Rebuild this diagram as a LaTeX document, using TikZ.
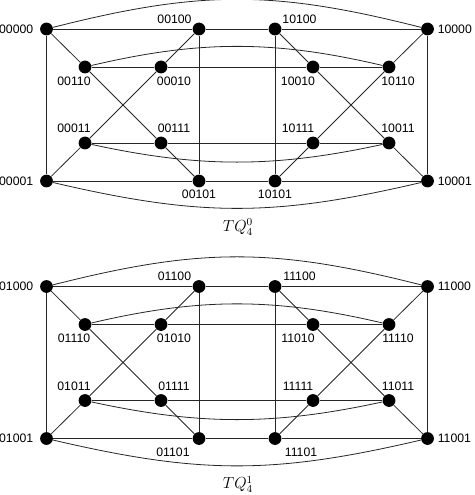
\documentclass[tikz,border=0pt]{standalone}
\usepackage{fontspec}
\setsansfont{Liberation Sans}
\usetikzlibrary{calc}
\begin{document}
\begin{tikzpicture}[x=0.75pt,y=-0.75pt,
    dot/.style={circle,fill=black,inner sep=0pt,minimum size=9.6pt},
    edge/.style={line width=0.6pt,black!85},
    lbl/.style={font=\sffamily\fontsize{9.2}{11}\selectfont,inner sep=0pt},
    captxt/.style={font=\fontsize{12}{14}\selectfont,inner sep=0pt}]
  \useasboundingbox (0,0) rectangle (474,495);
  \foreach \g/\yy/\dd in {0/0/0,1/257.5/26}{
    % nodes: left half 0g..., right half 1g... (mirrored)
    \foreach \s/\x/\y in {000/46.5/29,100/199/29,110/85/67,010/161/67,
                          011/85/143,111/161/143,001/46.5/181,101/199/181}{
      \node[dot] (n0\g\s) at (\x,\y+\yy) {};
      \node[dot] (n1\g\s) at (474-\x,\y+\yy) {};
    }
    % edges inside each half
    \foreach \h in {0,1}
      \foreach \p/\q in {000/100,000/001,100/101,001/101,110/010,011/111,
                         000/110,110/111,111/101,001/011,011/010,010/100}
        \draw[edge] (n\h\g\p) -- (n\h\g\q);
    % edges between the halves
    \foreach \s in {100,010,111,101}
      \draw[edge] (n0\g\s) -- (n1\g\s);
    \draw[edge] (n0\g000) .. controls +(154,-39) and +(-154,-39) .. (n1\g000);
    \draw[edge] (n0\g110) .. controls +(115,-27) and +(-115,-27) .. (n1\g110);
    \draw[edge] (n0\g011) .. controls +(115,25) and +(-115,25) .. (n1\g011);
    \draw[edge] (n0\g001) .. controls +(154,36) and +(-154,36) .. (n1\g001);
    % labels
    \node[lbl,anchor=east] at ($(n0\g000)+(-13,0)$) {0\g000};
    \node[lbl,anchor=west] at ($(n1\g000)+(10,0)$) {1\g000};
    \node[lbl,anchor=east] at ($(n0\g001)+(-13,0)$) {0\g001};
    \node[lbl,anchor=west] at ($(n1\g001)+(10,0)$) {1\g001};
    \foreach \s/\dl/\dr/\dy in {100/-24.5/24.5/-10,110/-11/9/14,010/13/-15/14,
                                011/-11/9/-14.5,111/13/-15/-14.5}{
      \node[lbl] at ($(n0\g\s)+(\dl,\dy)$) {0\g\s};
      \node[lbl] at ($(n1\g\s)+(\dr,\dy)$) {1\g\s};
    }
    \node[lbl] at ($(n0\g101)+(-\dd,13.5)$) {0\g101};
    \node[lbl] at ($(n1\g101)+(\dd,13.5)$) {1\g101};
    \node[captxt] (cap\g) at (238,227+\yy) {$TQ_4^{\g}$};
  }
\end{tikzpicture}
\end{document}
